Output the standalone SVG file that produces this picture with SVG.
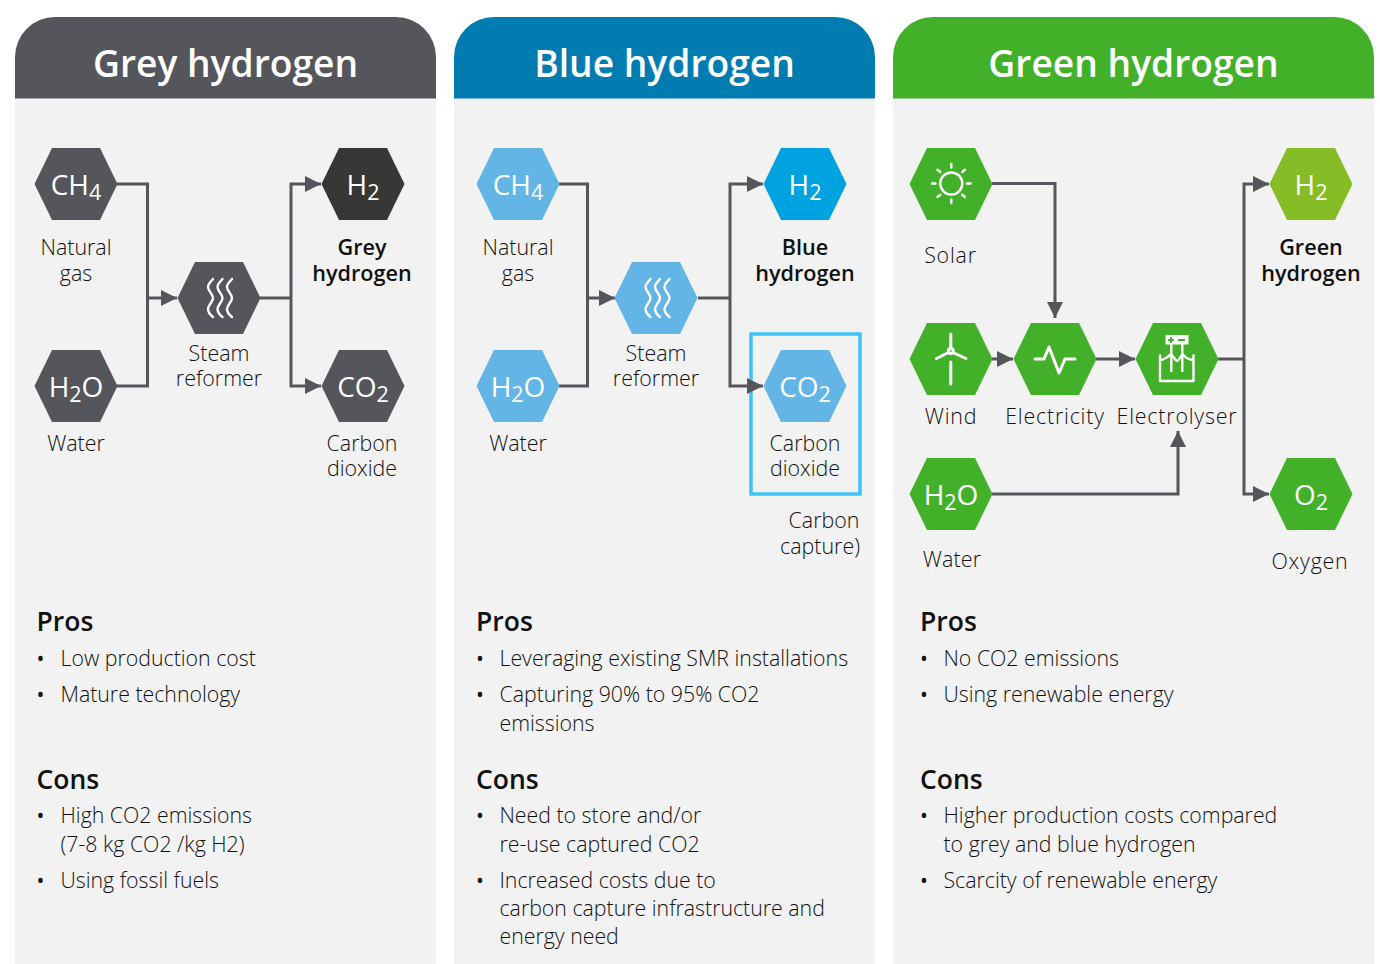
<svg xmlns="http://www.w3.org/2000/svg" width="1380" height="964" viewBox="0 0 1380 964">
<style>
text{font-family:"Open Sans","Noto Sans","Liberation Sans",sans-serif;font-weight:300;fill:#111}
.l{font-size:21.400px;text-anchor:middle}
.s{letter-spacing:.8px}
.b{font-size:21.600px;font-weight:600;text-anchor:middle;fill:#111}
.f{font-size:28px;font-weight:400;fill:#fff;text-anchor:middle}
.n{font-size:21.500px}
.t{font-size:37.200px;font-weight:600;fill:#fff;text-anchor:middle}
.h{font-size:26.500px;font-weight:600;fill:#111}
.p{font-size:21.300px}
.d{font-size:21px;font-weight:400;fill:#111}
.w{fill:none;stroke:#fff;stroke-width:2.400;stroke-linecap:round;stroke-linejoin:round}
.c{fill:none;stroke:#54565b;stroke-width:3}
.panel{fill:#f2f2f2}
.grey{fill:#54565b}.dark{fill:#373735}.lb{fill:#62b5e5}.bl{fill:#00a3e0}.gr{fill:#43b02a}.lg{fill:#86bc25}
</style>
<defs>
<polygon id="hex" points="-41.500,0 -24,-36 24,-36 41.500,0 24,36 -24,36"/>
<marker id="a" markerUnits="userSpaceOnUse" markerWidth="17" markerHeight="17" refX="16" refY="8" orient="auto"><path d="M0,0L16,8L0,16Z" fill="#54565b"/></marker>
<path id="wave" d="M5,-19C2.500,-16 0,-14 0,-11C0,-7 5,-4 5,0C5,4 0,7 0,11C0,14 2.500,17 5,19"/>
<g id="steam" class="w"><use href="#wave" x="-11"/><use href="#wave" x="-1.500"/><use href="#wave" x="8"/></g>
</defs>

<g id="panel-grey"><rect class="panel" x="15" y="60" width="421" height="904"/><path d="M15,98.500V57a40,40 0 0 1 40-40H396a40,40 0 0 1 40,40V98.500Z" fill="#54565b"/><text class="t" x="225.500" y="77">Grey hydrogen</text></g>
<g id="panel-blue"><rect class="panel" x="454" y="60" width="421" height="904"/><path d="M454,98.500V57a40,40 0 0 1 40-40H835a40,40 0 0 1 40,40V98.500Z" fill="#007cb0"/><text class="t" x="664.500" y="77">Blue hydrogen</text></g>
<g id="panel-green"><rect class="panel" x="893" y="60" width="481" height="904"/><path d="M893,98.500V57a40,40 0 0 1 40-40H1334a40,40 0 0 1 40,40V98.500Z" fill="#43b02a"/><text class="t" x="1133.500" y="77">Green hydrogen</text></g>

<g id="capture-box"><rect x="751" y="334" width="109" height="160" fill="none" stroke="#3cc4fa" stroke-width="3.500"/></g>

<g id="connectors">
<path class="c" d="M117,184H147.500V386H117"/>
<path class="c" d="M147.500,298H177" marker-end="url(#a)"/>
<path class="c" d="M260,298H291"/>
<path class="c" d="M291,298V184H321" marker-end="url(#a)"/>
<path class="c" d="M291,298V386H321" marker-end="url(#a)"/>
<path class="c" d="M559,184H587.500V386H559"/>
<path class="c" d="M587.500,298H615" marker-end="url(#a)"/>
<path class="c" d="M698,298H730"/>
<path class="c" d="M730,298V184H763" marker-end="url(#a)"/>
<path class="c" d="M730,298V386H763" marker-end="url(#a)"/>
<path class="c" d="M992,183.500H1055V318" marker-end="url(#a)"/>
<path class="c" d="M992,359H1013" marker-end="url(#a)"/>
<path class="c" d="M1096,359H1135" marker-end="url(#a)"/>
<path class="c" d="M992,494H1178V431" marker-end="url(#a)"/>
<path class="c" d="M1218,359H1244"/>
<path class="c" d="M1244,359V184H1269" marker-end="url(#a)"/>
<path class="c" d="M1244,359V494H1269" marker-end="url(#a)"/>
</g>

<g id="grey-ch4"><use href="#hex" class="grey" x="76" y="184"/><text class="f" x="76" y="194.500">CH<tspan class="n" dy="5">4</tspan></text><text class="l" x="76" y="255">Natural</text><text class="l" x="76" y="281">gas</text></g>
<g id="grey-h2o"><use href="#hex" class="grey" x="76" y="386"/><text class="f" x="76" y="396.500">H<tspan class="n" dy="5">2</tspan><tspan dy="-5">O</tspan></text><text class="l" x="76" y="451">Water</text></g>
<g id="grey-reformer"><use href="#hex" class="grey" x="219" y="298"/><use href="#steam" x="219" y="298"/><text class="l" x="219" y="361">Steam</text><text class="l" x="219" y="386">reformer</text></g>
<g id="grey-h2"><use href="#hex" class="dark" x="363" y="184"/><text class="f" x="363" y="194.500">H<tspan class="n" dy="5">2</tspan></text><text class="b" x="362" y="255">Grey</text><text class="b" x="362" y="281">hydrogen</text></g>
<g id="grey-co2"><use href="#hex" class="grey" x="363" y="386"/><text class="f" x="363" y="396.500">CO<tspan class="n" dy="5">2</tspan></text><text class="l" x="362" y="451">Carbon</text><text class="l" x="362" y="476">dioxide</text></g>

<g id="blue-ch4"><use href="#hex" class="lb" x="518" y="184"/><text class="f" x="518" y="194.500">CH<tspan class="n" dy="5">4</tspan></text><text class="l" x="518" y="255">Natural</text><text class="l" x="518" y="281">gas</text></g>
<g id="blue-h2o"><use href="#hex" class="lb" x="518" y="386"/><text class="f" x="518" y="396.500">H<tspan class="n" dy="5">2</tspan><tspan dy="-5">O</tspan></text><text class="l" x="518" y="451">Water</text></g>
<g id="blue-reformer"><use href="#hex" class="lb" x="656" y="298"/><use href="#steam" x="656.500" y="298"/><text class="l" x="656" y="361">Steam</text><text class="l" x="656" y="386">reformer</text></g>
<g id="blue-h2"><use href="#hex" class="bl" x="805" y="184"/><text class="f" x="805" y="194.500">H<tspan class="n" dy="5">2</tspan></text><text class="b" x="805" y="255">Blue</text><text class="b" x="805" y="281">hydrogen</text></g>
<g id="blue-co2"><use href="#hex" class="lb" x="805" y="386"/><text class="f" x="805" y="396.500">CO<tspan class="n" dy="5">2</tspan></text><text class="l" x="805" y="451">Carbon</text><text class="l" x="805" y="476">dioxide</text></g>
<g id="blue-capture"><text class="l" x="824" y="528">Carbon</text><text class="l" x="820" y="554">capture)</text></g>

<g id="green-solar"><use href="#hex" class="gr" x="951" y="184"/><g class="w"><circle cx="951.300" cy="183.500" r="11"/><path d="M951.300,164v3.500M951.300,199.500v3.500M932,183.500h3.500M967,183.500h3.500M937.500,169.700l2.800,2.300M965,169.700l-2.800,2.300M937.500,197l2.800,-2.300M965,197l-2.800,-2.300"/></g><text class="l s" x="950.500" y="263">Solar</text></g>
<g id="green-wind"><use href="#hex" class="gr" x="951" y="359"/><g class="w" style="stroke-width:3"><circle cx="950.800" cy="351" r="2.500"/><path d="M950.800,334V347M947.500,353L936.500,358.500M954,353L966,358.500M950.800,362V384"/></g><text class="l s" x="951" y="424">Wind</text></g>
<g id="green-electricity"><use href="#hex" class="gr" x="1055" y="359"/><path class="w" style="stroke-width:3" d="M1035,359H1044L1049,347L1059,373L1065,359H1075"/><text class="l s" x="1055" y="424">Electricity</text></g>
<g id="green-electrolyser"><use href="#hex" class="gr" x="1177" y="359"/><rect x="1165.500" y="335" width="23" height="9.500" fill="#fff"/><path d="M1168,340h6M1171,337v6M1178,340h7" fill="none" stroke="#43b02a" stroke-width="2"/><path class="w" style="stroke-linecap:butt" d="M1160,354.500V381H1193.500V354.500M1160,360C1165,360 1168,357 1171.300,354C1174,358 1176,361 1177,361C1178,361 1180,358 1182.300,354C1185,357 1188,360 1193.500,360M1171.300,344V372M1182.300,344V372"/><text class="l s" x="1177" y="424">Electrolyser</text></g>
<g id="green-h2o"><use href="#hex" class="gr" x="951" y="494"/><text class="f" x="951" y="504.500">H<tspan class="n" dy="5">2</tspan><tspan dy="-5">O</tspan></text><text class="l" x="952" y="567" style="letter-spacing:.2px">Water</text></g>
<g id="green-h2"><use href="#hex" class="lg" x="1311" y="184"/><text class="f" x="1311" y="194.500">H<tspan class="n" dy="5">2</tspan></text><text class="b" x="1311" y="255">Green</text><text class="b" x="1311" y="281">hydrogen</text></g>
<g id="green-o2"><use href="#hex" class="gr" x="1311" y="494"/><text class="f" x="1311" y="504.500">O<tspan class="n" dy="5">2</tspan></text><text class="l s" x="1310" y="569">Oxygen</text></g>

<g id="grey-list">
<text class="h" x="36.500" y="631">Pros</text>
<text class="d" x="36.500" y="666">•</text><text class="p" x="60.500" y="666">Low production cost</text>
<text class="d" x="36.500" y="702">•</text><text class="p" x="60.500" y="702">Mature technology</text>
<text class="h" x="36.500" y="789">Cons</text>
<text class="d" x="36.500" y="823">•</text><text class="p" x="60.500" y="823">High CO2 emissions</text><text class="p" x="60.500" y="852">(7-8 kg CO2 /kg H2)</text>
<text class="d" x="36.500" y="888">•</text><text class="p" x="60.500" y="888">Using fossil fuels</text>
</g>
<g id="blue-list">
<text class="h" x="476" y="631">Pros</text>
<text class="d" x="476" y="666">•</text><text class="p" x="499.500" y="666">Leveraging existing SMR installations</text>
<text class="d" x="476" y="702">•</text><text class="p" x="499.500" y="702">Capturing 90% to 95% CO2</text><text class="p" x="499.500" y="731">emissions</text>
<text class="h" x="476" y="789">Cons</text>
<text class="d" x="476" y="823">•</text><text class="p" x="499.500" y="823">Need to store and/or</text><text class="p" x="499.500" y="852">re-use captured CO2</text>
<text class="d" x="476" y="888">•</text><text class="p" x="499.500" y="888">Increased costs due to</text><text class="p" x="499.500" y="916">carbon capture infrastructure and</text><text class="p" x="499.500" y="944">energy need</text>
</g>
<g id="green-list">
<text class="h" x="920" y="631">Pros</text>
<text class="d" x="920" y="666">•</text><text class="p" x="943.500" y="666">No CO2 emissions</text>
<text class="d" x="920" y="702">•</text><text class="p" x="943.500" y="702">Using renewable energy</text>
<text class="h" x="920" y="789">Cons</text>
<text class="d" x="920" y="823">•</text><text class="p" x="943.500" y="823">Higher production costs compared</text><text class="p" x="943.500" y="852">to grey and blue hydrogen</text>
<text class="d" x="920" y="888">•</text><text class="p" x="943.500" y="888">Scarcity of renewable energy</text>
</g>
</svg>
